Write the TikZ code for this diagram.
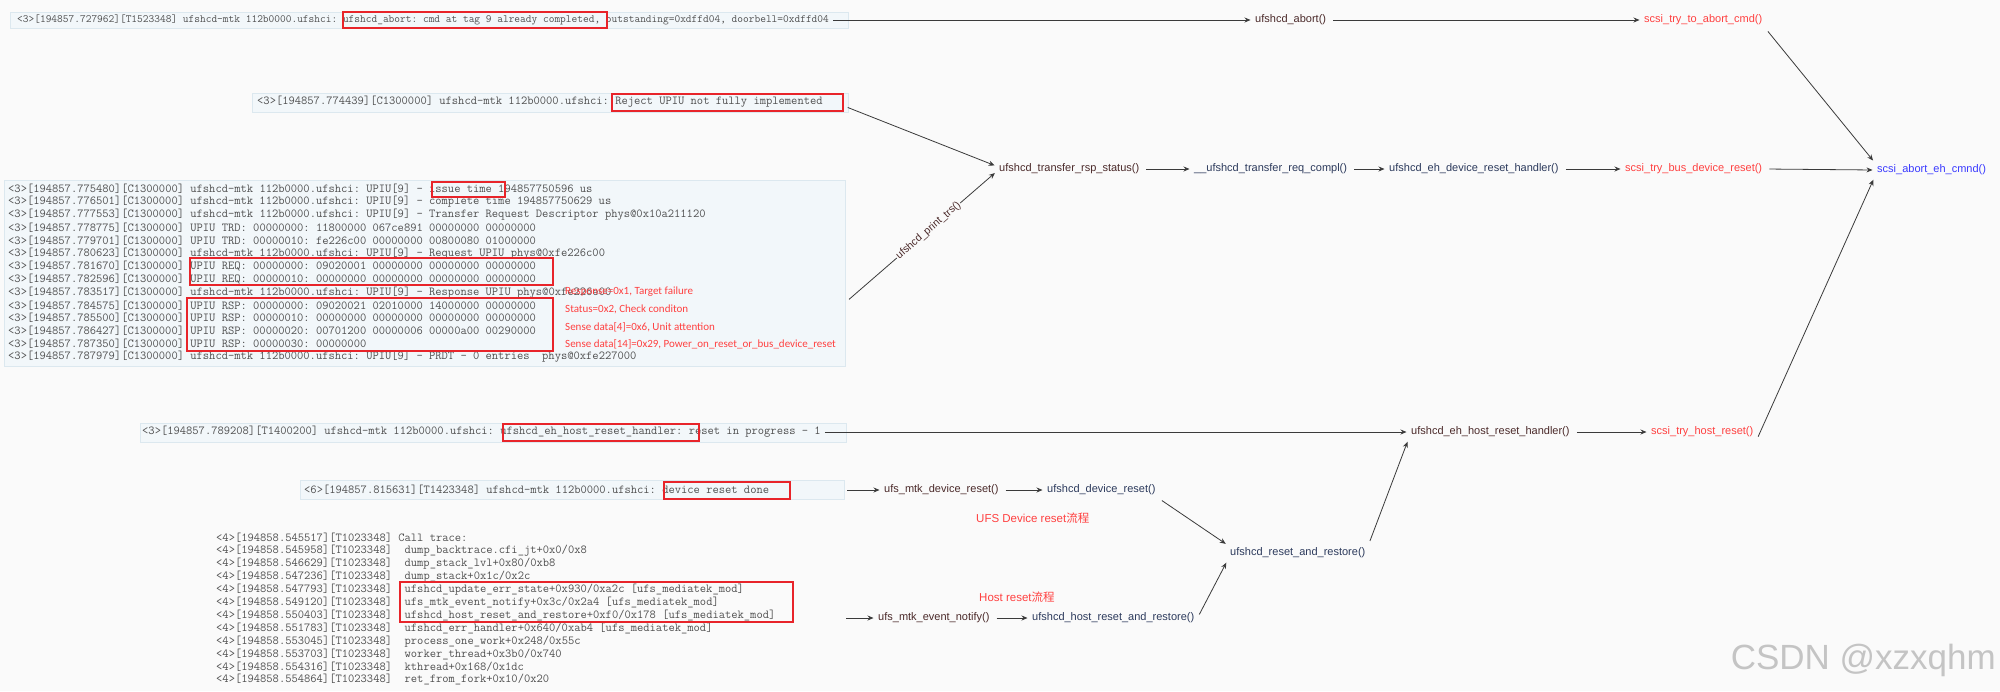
\documentclass[tikz,border=0pt]{standalone}
\usepackage{fontspec}
\newfontfamily\lsans{Liberation Sans}
\newfontfamily\carl{Carlito}
\newfontfamily\cjkf{Noto Sans CJK SC}
\usetikzlibrary{arrows.meta}
\definecolor{bg}{HTML}{FAFAFA}
\definecolor{bandc}{HTML}{F2F7FA}
\definecolor{bandb}{HTML}{DCE8EF}
\definecolor{logc}{HTML}{505050}
\definecolor{fnb}{HTML}{4B2A2A}
\definecolor{fnn}{HTML}{2C3A5C}
\definecolor{fnr}{HTML}{FF4040}
\definecolor{fnblue}{HTML}{3A3AFF}
\definecolor{arrc}{HTML}{3A3A3A}
\definecolor{boxr}{HTML}{E8242A}
\definecolor{wmc}{HTML}{C4C4C4}
\frenchspacing
\newcommand\logf{\ttfamily\frenchspacing\fontsize{12.2}{14}\selectfont}
\newcommand\logsf{\ttfamily\frenchspacing\fontsize{11.1}{13}\selectfont}
\newcommand\fnf{\lsans\fontsize{11}{13}\selectfont}
\newcommand\notef{\carl\fontsize{11}{12}\selectfont}
\begin{document}
\begin{tikzpicture}[x=1pt,y=-1pt,
  logl/.style={anchor=west,inner sep=0pt,font=\logf,text=logc},
  logs/.style={anchor=west,inner sep=0pt,font=\logsf,text=logc},
  fn/.style={anchor=west,inner sep=3pt,font=\fnf},
  note/.style={anchor=west,inner sep=0pt,font=\notef,text=fnr},
  arr/.style={draw=arrc,line width=0.8pt,-{Stealth[length=6pt,width=5pt]},shorten <=4pt,shorten >=1.5pt},
  redbox/.style={draw=boxr,line width=1.2pt},
  band/.style={fill=bandc,draw=bandb,line width=0.6pt}]
\useasboundingbox (0,0) rectangle (2000,691);
\fill[bg] (0,0) rectangle (2000,691);

% ---- bands
\draw[band] (10,12) rectangle (848,28);
\draw[band] (252,93) rectangle (848,112);
\draw[band] (4,180) rectangle (845,366);
\draw[band] (140,423) rectangle (846,442);
\draw[band] (300,480) rectangle (844,499);

% ---- top log line
\node[logs] (t1) at (17,20) {<3>[194857.727962][T1523348] ufshcd-mtk 112b0000.ufshci: ufshcd\_abort: cmd at tag 9 already completed, outstanding=0xdffd04, doorbell=0xdffd04};
\draw[redbox] (343,12) rectangle (607,28);

% ---- reject line
\node[logl] (rj) at (257,102) {<3>[194857.774439][C1300000] ufshcd-mtk 112b0000.ufshci: Reject UPIU not fully implemented};
\draw[redbox] (612,94) rectangle (843,111);
\coordinate (rejout) at (844,106);

% ---- UPIU dump block
\node[logl] (b1) at (8,189.0) {<3>[194857.775480][C1300000] ufshcd-mtk 112b0000.ufshci: UPIU[9] - issue time 194857750596 us};
\node[logl] (b2) at (8,201.9) {<3>[194857.776501][C1300000] ufshcd-mtk 112b0000.ufshci: UPIU[9] - complete time 194857750629 us};
\node[logl] (b3) at (8,214.8) {<3>[194857.777553][C1300000] ufshcd-mtk 112b0000.ufshci: UPIU[9] - Transfer Request Descriptor phys@0x10a211120};
\node[logl] (b4) at (8,227.8) {<3>[194857.778775][C1300000] UPIU TRD: 00000000: 11800000 067ce891 00000000 00000000};
\node[logl] (b5) at (8,240.7) {<3>[194857.779701][C1300000] UPIU TRD: 00000010: fe226c00 00000000 00800080 01000000};
\node[logl] (b6) at (8,253.6) {<3>[194857.780623][C1300000] ufshcd-mtk 112b0000.ufshci: UPIU[9] - Request UPIU phys@0xfe226c00};
\node[logl] (b7) at (8,266.5) {<3>[194857.781670][C1300000] UPIU REQ: 00000000: 09020001 00000000 00000000 00000000};
\node[logl] (b8) at (8,279.4) {<3>[194857.782596][C1300000] UPIU REQ: 00000010: 00000000 00000000 00000000 00000000};
\node[logl] (b9) at (8,292.4) {<3>[194857.783517][C1300000] ufshcd-mtk 112b0000.ufshci: UPIU[9] - Response UPIU phys@0xfe226e00};
\node[logl] (b10) at (8,305.3) {<3>[194857.784575][C1300000] UPIU RSP: 00000000: 09020021 02010000 14000000 00000000};
\node[logl] (b11) at (8,318.2) {<3>[194857.785500][C1300000] UPIU RSP: 00000010: 00000000 00000000 00000000 00000000};
\node[logl] (b12) at (8,331.1) {<3>[194857.786427][C1300000] UPIU RSP: 00000020: 00701200 00000006 00000a00 00290000};
\node[logl] (b13) at (8,344.0) {<3>[194857.787350][C1300000] UPIU RSP: 00000030: 00000000};
\node[logl] (b14) at (8,357.0) {<3>[194857.787979][C1300000] ufshcd-mtk 112b0000.ufshci: UPIU[9] - PRDT - 0 entries\ \ phys@0xfe227000};
\draw[redbox] (432,182) rectangle (505,197);
\draw[redbox] (190,258) rectangle (553,285);
\draw[redbox] (187,298) rectangle (553,351);
\node[note] (n1) at (565,292) {Response=0x1, Target failure};
\node[note] (n2) at (565,309) {Status=0x2, Check conditon};
\node[note] (n3) at (565,327) {Sense data[4]=0x6, Unit attention};
\node[note] (n4) at (565,344) {Sense data[14]=0x29, Power\_on\_reset\_or\_bus\_device\_reset};
\coordinate (trsfrom) at (846,302);

% ---- host reset line
\node[logl] (h1) at (142,432) {<3>[194857.789208][T1400200] ufshcd-mtk 112b0000.ufshci: ufshcd\_eh\_host\_reset\_handler: reset in progress - 1};
\draw[redbox] (503,424) rectangle (699,441);

% ---- device reset line
\node[logl] (d1) at (304,490) {<6>[194857.815631][T1423348] ufshcd-mtk 112b0000.ufshci: device reset done};
\draw[redbox] (664,482) rectangle (790,499);
\coordinate (devout) at (843,490);

% ---- call trace
\node[logl] (c1) at (216,538.0) {<4>[194858.545517][T1023348] Call trace:};
\node[logl] (c2) at (216,550.9) {<4>[194858.545958][T1023348]\ \ dump\_backtrace.cfi\_jt+0x0/0x8};
\node[logl] (c3) at (216,563.8) {<4>[194858.546629][T1023348]\ \ dump\_stack\_lvl+0x80/0xb8};
\node[logl] (c4) at (216,576.7) {<4>[194858.547236][T1023348]\ \ dump\_stack+0x1c/0x2c};
\node[logl] (c5) at (216,589.6) {<4>[194858.547793][T1023348]\ \ ufshcd\_update\_err\_state+0x930/0xa2c [ufs\_mediatek\_mod]};
\node[logl] (c6) at (216,602.5) {<4>[194858.549120][T1023348]\ \ ufs\_mtk\_event\_notify+0x3c/0x2a4 [ufs\_mediatek\_mod]};
\node[logl] (c7) at (216,615.4) {<4>[194858.550403][T1023348]\ \ ufshcd\_host\_reset\_and\_restore+0xf0/0x178 [ufs\_mediatek\_mod]};
\node[logl] (c8) at (216,628.3) {<4>[194858.551783][T1023348]\ \ ufshcd\_err\_handler+0x640/0xab4 [ufs\_mediatek\_mod]};
\node[logl] (c9) at (216,641.2) {<4>[194858.553045][T1023348]\ \ process\_one\_work+0x248/0x55c};
\node[logl] (c10) at (216,654.1) {<4>[194858.553703][T1023348]\ \ worker\_thread+0x3b0/0x740};
\node[logl] (c11) at (216,667.0) {<4>[194858.554316][T1023348]\ \ kthread+0x168/0x1dc};
\node[logl] (c12) at (216,679.9) {<4>[194858.554864][T1023348]\ \ ret\_from\_fork+0x10/0x20};
\draw[redbox] (400,582) rectangle (793,622);
\coordinate (evout) at (842,618);

% ---- function nodes
\node[fn,text=fnb] (abort) at (1252,20) {ufshcd\_abort()};
\node[fn,text=fnr] (sta) at (1641,20) {scsi\_try\_to\_abort\_cmd()};
\node[fn,text=fnb] (rsp) at (996,169) {ufshcd\_transfer\_rsp\_status()};
\node[fn,text=fnn] (req) at (1191,169) {\_\_ufshcd\_transfer\_req\_compl()};
\node[fn,text=fnn] (edr) at (1386,169) {ufshcd\_eh\_device\_reset\_handler()};
\node[fn,text=fnr] (sbd) at (1622,169) {scsi\_try\_bus\_device\_reset()};
\node[fn,text=fnblue] (sae) at (1874,170) {scsi\_abort\_eh\_cmnd()};
\node[fn,text=fnb] (ehh) at (1408,432) {ufshcd\_eh\_host\_reset\_handler()};
\node[fn,text=fnr] (sth) at (1648,432) {scsi\_try\_host\_reset()};
\node[fn,text=fnb] (umd) at (881,490) {ufs\_mtk\_device\_reset()};
\node[fn,text=fnn] (udr) at (1044,490) {ufshcd\_device\_reset()};
\node[fn,text=fnn] (rr) at (1227,553) {ufshcd\_reset\_and\_restore()};
\node[fn,text=fnb] (uen) at (875,618) {ufs\_mtk\_event\_notify()};
\node[fn,text=fnn] (hrr) at (1029,618) {ufshcd\_host\_reset\_and\_restore()};

\node[anchor=west,inner sep=0pt,text=fnr,font=\lsans\fontsize{11.5}{13}\selectfont] (lab1) at (976,518) {UFS Device reset{\cjkf 流程}};
\node[anchor=west,inner sep=0pt,text=fnr,font=\lsans\fontsize{11.5}{13}\selectfont] (lab2) at (979,597) {Host reset{\cjkf 流程}};

\node[anchor=east,inner sep=0pt,text=wmc,font=\lsans\fontsize{35}{40}\selectfont] (wm) at (1996,660) {CSDN @xzxqhm};

% ---- connectors
\draw[arr] (t1.east) -- (abort.west);
\draw[arr] (abort.east) -- (sta.west);
\draw[arr] (sta.south east) -- (sae.north west);
\draw[arr] (rejout) -- ([yshift=3pt]rsp.west);
\draw[arr] (trsfrom) -- node[sloped,pos=0.55,fill=bg,inner sep=1pt,text=fnb,font=\lsans\fontsize{10.5}{12}\selectfont] (trslab) {ufshcd\_print\_trs()} ([yshift=-3pt]rsp.west);
\draw[arr] (rsp.east) -- (req.west);
\draw[arr] (req.east) -- (edr.west);
\draw[arr] (edr.east) -- (sbd.west);
\draw[arr] (sbd.east) -- (sae.west);
\draw[arr] (h1.east) -- (ehh.west);
\draw[arr] (ehh.east) -- (sth.west);
\draw[arr] (sth.south east) -- (sae.south west);
\draw[arr] (devout) -- (umd.west);
\draw[arr] (umd.east) -- (udr.west);
\draw[arr] (udr.south east) -- (rr.north west);
\draw[arr] (rr.north east) -- (ehh.south west);
\draw[arr] (evout) -- (uen.west);
\draw[arr] (uen.east) -- (hrr.west);
\draw[arr] (hrr.east) -- (rr.south west);
\end{tikzpicture}
\end{document}
